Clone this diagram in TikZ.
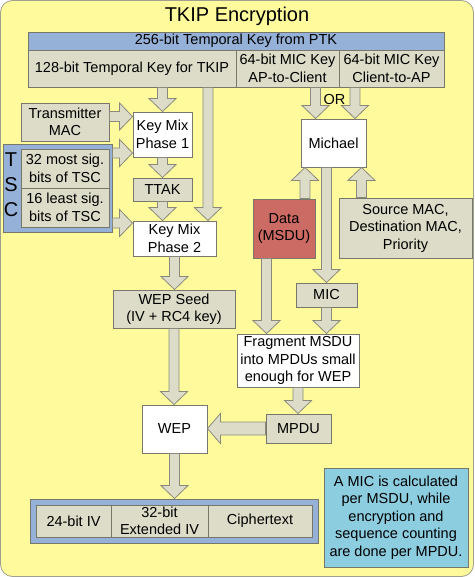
\documentclass[tikz,border=0pt]{standalone}
\usepackage{fontspec}
\setmainfont{Liberation Sans}
\usetikzlibrary{calc}
\definecolor{bgy}{HTML}{FFFB9C}
\definecolor{framec}{HTML}{A0A090}
\definecolor{cellc}{HTML}{DCDCC8}
\definecolor{edgec}{HTML}{77776A}
\definecolor{bluec}{HTML}{95B1D8}
\definecolor{redc}{HTML}{CC6A64}
\definecolor{notec}{HTML}{8DCDE0}
\definecolor{arrowedge}{HTML}{8A8A7C}
\newcommand{\sw}{5pt}
\newcommand{\hw}{13.5pt}
\newcommand{\hlen}{13pt}
\newcommand{\barr}[2]{%
  \coordinate (barrS) at #1;
  \coordinate (barrE) at #2;
  \coordinate (barrH) at ($(barrE)!\hlen!(barrS)$);
  \draw[blockarrow] ($(barrS)!\sw!90:(barrE)$) -- ($(barrH)!\sw!-90:(barrS)$)
    -- ($(barrH)!\hw!-90:(barrS)$) -- (barrE) -- ($(barrH)!\hw!90:(barrS)$)
    -- ($(barrH)!\sw!90:(barrS)$) -- ($(barrS)!\sw!-90:(barrE)$) -- cycle;}
\begin{document}
\begin{tikzpicture}[x=1pt,y=-1pt,
  base/.style={draw=edgec, line width=0.9pt, inner sep=0pt, align=center,
    font=\fontsize{14.5}{17.5}\selectfont, text=black},
  gbox/.style={base, fill=cellc},
  wbox/.style={base, fill=white},
  bbox/.style={base, fill=bluec},
  rbox/.style={base, fill=redc},
  nbox/.style={base, fill=notec},
  plain/.style={inner sep=0pt, align=center, font=\fontsize{14.5}{17.5}\selectfont},
  blockarrow/.style={draw=arrowedge, fill=cellc, line width=0.8pt, line join=miter}
]
\useasboundingbox (0,0) rectangle (474,577);
\draw[fill=bgy, draw=framec, line width=0.8pt, rounded corners=12pt] (0.5,0.5) rectangle (473.5,576.5);

\node[plain, font=\fontsize{20}{23}\selectfont] (title) at (237,16) {TKIP Encryption};

% key bar
\node[bbox, minimum width=416pt, minimum height=18pt] (ptk) at (236,41) {256-bit Temporal Key from PTK};
\node[gbox, minimum width=208pt, minimum height=37pt] (t128) at (132,68.5) {128-bit Temporal Key for TKIP};
\node[gbox, minimum width=103pt, minimum height=37pt] (tap) at (287.5,68.5) {64-bit MIC Key\\AP-to-Client};
\node[gbox, minimum width=105pt, minimum height=37pt] (tca) at (391.5,68.5) {64-bit MIC Key\\Client-to-AP};

% left inputs
\node[gbox, minimum width=88pt, minimum height=38pt] (txmac) at (65,122) {Transmitter\\MAC};
\node[bbox, minimum width=109pt, minimum height=88pt] (tscbox) at (57.5,188) {};
\node[plain, font=\fontsize{20}{25}\selectfont] (tsclabel) at (11,185) {T\\S\\C};
\node[gbox, minimum width=88pt, minimum height=39pt] (tsc32) at (65,168.5) {32 most sig.\\bits of TSC};
\node[gbox, minimum width=88pt, minimum height=39pt] (tsc16) at (65,207.5) {16 least sig.\\bits of TSC};

% key mixing chain
\node[wbox, minimum width=59pt, minimum height=45pt] (kmp1) at (162.5,134.5) {Key Mix\\Phase 1};
\node[gbox, minimum width=59pt, minimum height=23pt] (ttak) at (162.5,189.5) {TTAK};
\node[wbox, minimum width=83pt, minimum height=35pt] (kmp2) at (174.5,238.5) {Key Mix\\Phase 2};
\node[gbox, minimum width=122pt, minimum height=38pt] (wepseed) at (174,309) {WEP Seed\\(IV + RC4 key)};
\node[wbox, minimum width=65pt, minimum height=48pt] (wep) at (174.5,429) {WEP};

% output
\node[bbox, minimum width=288pt, minimum height=44pt] (outbox) at (174,521) {};
\node[gbox, minimum width=75pt, minimum height=32pt] (c24) at (73.5,521) {24-bit IV};
\node[gbox, minimum width=97pt, minimum height=32pt] (c32) at (159.5,521) {32-bit\\Extended IV};
\node[gbox, minimum width=104pt, minimum height=32pt] (cct) at (260,521) {Ciphertext};

% MIC side
\node[wbox, minimum width=65pt, minimum height=48pt] (michael) at (333.5,143) {Michael};
\node[plain] (orlabel) at (334.5,100) {OR};
\node[rbox, minimum width=62pt, minimum height=59pt] (data) at (284,228.5) {Data\\(MSDU)};
\node[gbox, minimum width=133pt, minimum height=60pt] (srcmac) at (405.5,228) {Source MAC,\\Destination MAC,\\Priority};
\node[gbox, minimum width=61pt, minimum height=24pt] (mic) at (326.5,295) {MIC};
\node[wbox, minimum width=122pt, minimum height=53pt] (frag) at (298,360.5) {Fragment MSDU\\into MPDUs small\\enough for WEP};
\node[gbox, minimum width=65pt, minimum height=29pt] (mpdu) at (298.5,428.5) {MPDU};

\node[nbox, minimum width=144pt, minimum height=99pt] (note) at (396,517.5) {A MIC is calculated\\per MSDU, while\\encryption and\\sequence counting\\are done per MPDU.};

% connectors (block arrows)
\barr{(kmp1.north |- t128.south)}{(kmp1.north)}
\coordinate (k2in) at ($(kmp2.north east)+(-8.5,0)$);
\barr{(k2in |- t128.south)}{(k2in)}
\barr{(kmp1.south)}{(ttak.north)}
\barr{(ttak.south)}{(ttak.south |- kmp2.north)}
\barr{(kmp2.south)}{(kmp2.south |- wepseed.north)}
\barr{(wepseed.south)}{(wepseed.south |- wep.north)}
\barr{(wep.south)}{(wep.south |- outbox.north)}

\coordinate (tx1) at ($(txmac.north east)+(0,14)$);
\barr{(tx1)}{(tx1 -| kmp1.west)}
\coordinate (k1in) at ($(kmp1.south west)+(0,-4.5)$);
\barr{(k1in -| tscbox.east)}{(k1in)}
\coordinate (k2w) at ($(kmp2.north west)+(0,2.5)$);
\barr{(k2w -| tscbox.east)}{(k2w)}

\coordinate (mA) at ($(michael.north west)+(15,0)$);
\barr{(mA |- tap.south)}{(mA)}
\coordinate (mB) at ($(michael.north east)+(-11.5,0)$);
\barr{(mB |- tca.south)}{(mB)}
\coordinate (mC) at ($(michael.south west)+(4.5,0)$);
\barr{(mC |- data.north)}{(mC)}
\coordinate (mD) at ($(michael.south east)+(-5,0)$);
\barr{(mD |- srcmac.north)}{(mD)}
\barr{(mic.north |- michael.south)}{(mic.north)}
\coordinate (fA) at ($(data.south west)+(14,0)$);
\barr{(fA)}{(fA |- frag.north)}
\barr{(mic.south)}{(mic.south |- frag.north)}
\barr{(frag.south)}{(frag.south |- mpdu.north)}
\begin{scope}
\renewcommand{\sw}{6.5pt}\renewcommand{\hw}{15pt}
\barr{(mpdu.west)}{(mpdu.west -| wep.east)}
\end{scope}
\end{tikzpicture}
\end{document}
